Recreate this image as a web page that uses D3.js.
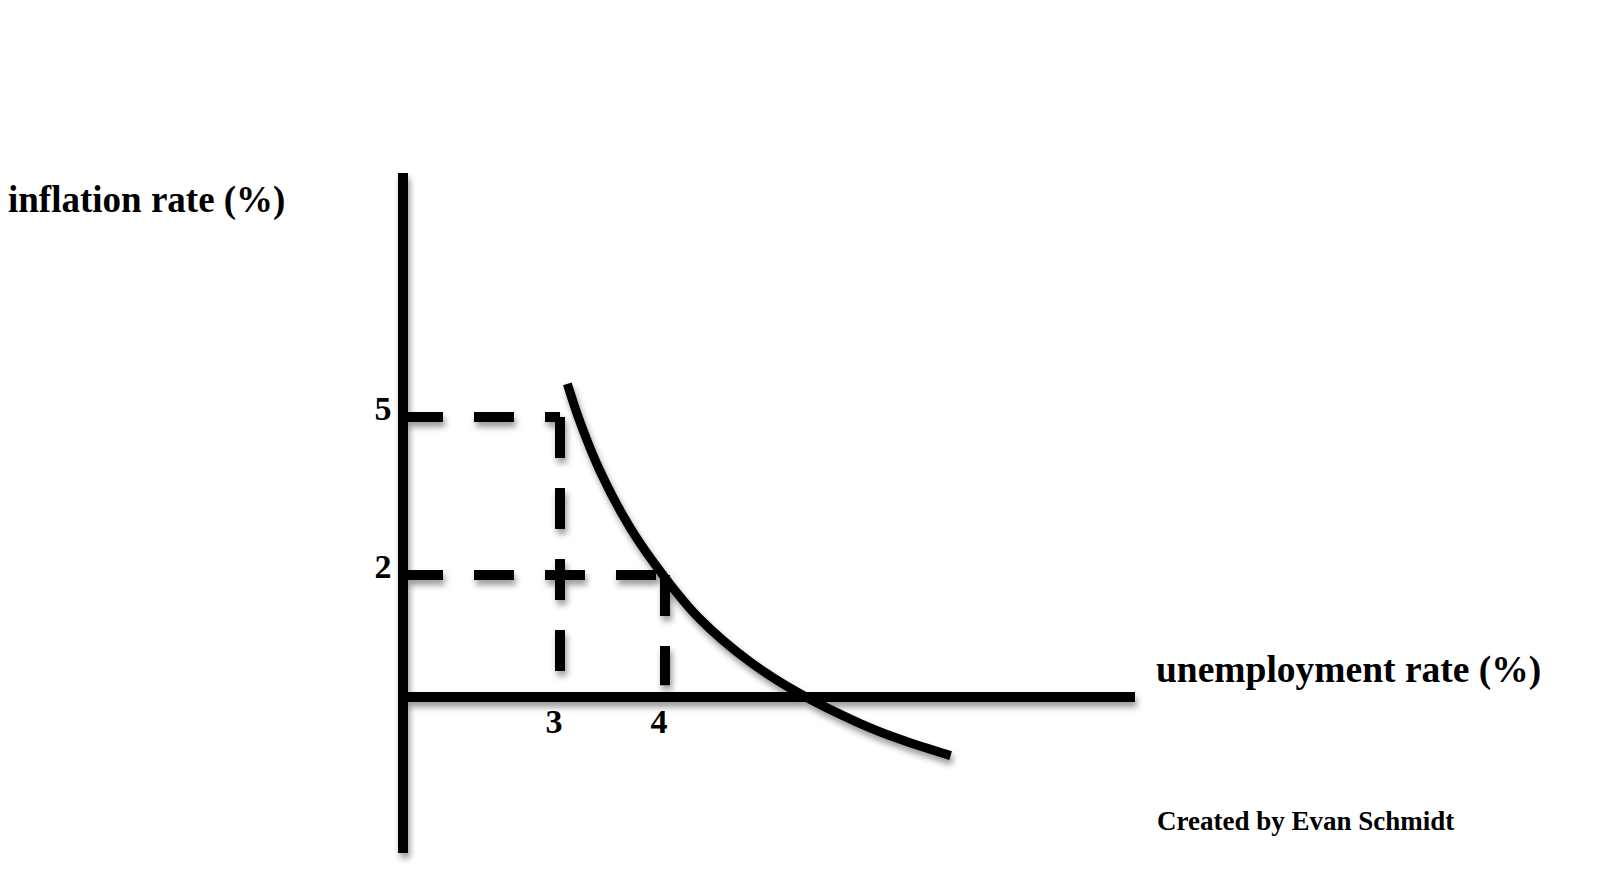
<!DOCTYPE html>
<html>
<head>
<meta charset="utf-8">
<script src="https://cdn.jsdelivr.net/npm/d3@7"></script>
<style>
  body { margin: 0; background: #fff; }
  text { font-family: "Liberation Serif", "DejaVu Serif", serif; font-weight: bold; fill: #000; }
</style>
</head>
<body>
<div id="chart"></div>
<script>
// values (data units: % unemployment, % inflation)
var curveU = [3.07, 3.19, 3.38, 3.67, 4.00, 4.33, 4.81, 5.29, 5.86, 6.24, 6.72];
var curveI = [5.63, 4.91, 3.98, 2.89, 1.95, 1.17, 0.35, -0.26, -0.82, -1.12, -1.43];
var xTicks = [3, 4];
var yTicks = [5, 2];
// dashed guide lines: point on curve and how far the drop line runs down
var guideU = [3, 4];
var guideI = [5, 2];
var guideStop = [0.18, 0.0];

var width = 1600, height = 882;
var origin = { x: 403, y: 697 };

var svg = d3.select("#chart")
  .append("svg")
    .attr("width", width)
    .attr("height", height);

var defs = svg.append("defs");
var f = defs.append("filter").attr("id", "shadow")
  .attr("x", "-20%").attr("y", "-20%").attr("width", "140%").attr("height", "140%");
f.append("feDropShadow")
  .attr("dx", 2).attr("dy", 5)
  .attr("stdDeviation", 3)
  .attr("flood-color", "#000")
  .attr("flood-opacity", 0.4);

var x = d3.scaleLinear()
  .domain([3, 4])
  .range([560, 665]);

var y = d3.scaleLinear()
  .domain([2, 5])
  .range([575, 417]);

var g = svg.append("g").attr("filter", "url(#shadow)");

// dashed guides
g.selectAll(".hguide")
  .data(guideU)
  .join("line")
    .attr("x1", origin.x)
    .attr("x2", d => x(d))
    .attr("y1", (d, i) => y(guideI[i]))
    .attr("y2", (d, i) => y(guideI[i]))
    .attr("stroke", "#000")
    .attr("stroke-width", 10)
    .attr("stroke-dasharray", "40 31");

g.selectAll(".vguide")
  .data(guideU)
  .join("line")
    .attr("x1", d => x(d))
    .attr("x2", d => x(d))
    .attr("y1", (d, i) => y(guideI[i]))
    .attr("y2", (d, i) => y(guideStop[i]) + 5)
    .attr("stroke", "#000")
    .attr("stroke-width", 10)
    .attr("stroke-dasharray", "41 30");

// axes
g.append("line")
  .attr("x1", origin.x).attr("x2", origin.x)
  .attr("y1", 173).attr("y2", 853)
  .attr("stroke", "#000").attr("stroke-width", 10);

g.append("line")
  .attr("x1", origin.x - 5).attr("x2", 1135)
  .attr("y1", origin.y).attr("y2", origin.y)
  .attr("stroke", "#000").attr("stroke-width", 10);

// phillips curve
var pts = curveU.map((u, i) => [u, curveI[i]]);
var line = d3.line()
  .x(d => x(d[0]))
  .y(d => y(d[1]))
  .curve(d3.curveCatmullRom.alpha(0.5));

g.append("path")
  .datum(pts)
  .attr("d", line)
  .attr("fill", "none")
  .attr("stroke", "#000")
  .attr("stroke-width", 9);

// tick labels
svg.selectAll(".ylab")
  .data(yTicks)
  .join("text")
    .attr("x", origin.x - 20)
    .attr("y", d => y(d) + 3)
    .attr("text-anchor", "middle")
    .style("font-size", "34px")
    .text(d => d);

svg.selectAll(".xlab")
  .data(xTicks)
  .join("text")
    .attr("x", d => x(d) - 6)
    .attr("y", origin.y + 36)
    .attr("text-anchor", "middle")
    .style("font-size", "34px")
    .text(d => d);

// titles
svg.append("text")
  .attr("x", 8).attr("y", 212)
  .style("font-size", "37px")
  .text("inflation rate (%)");

svg.append("text")
  .attr("x", 1156).attr("y", 682)
  .style("font-size", "37.5px")
  .text("unemployment rate (%)");

svg.append("text")
  .attr("x", 1157).attr("y", 830)
  .style("font-size", "27px")
  .text("Created by Evan Schmidt");
</script>
</body>
</html>
